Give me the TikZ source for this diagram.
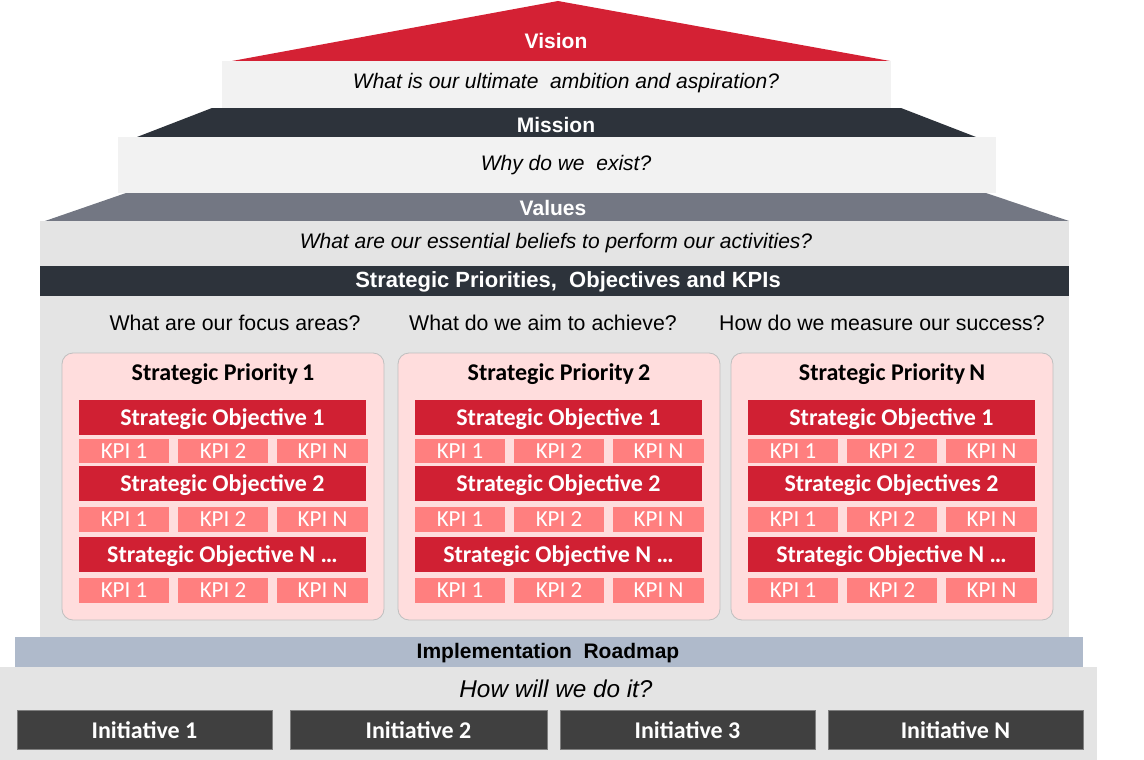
\documentclass[tikz,border=0pt]{standalone}
\usepackage{fontspec}
\setmainfont{Liberation Sans}
\newfontfamily\calib{Carlito}
\definecolor{visred}{HTML}{D42134}
\definecolor{misdark}{HTML}{2D333B}
\definecolor{valgray}{HTML}{737783}
\definecolor{lightA}{HTML}{F2F2F2}
\definecolor{lightB}{HTML}{E4E4E4}
\definecolor{roadblue}{HTML}{AFBACB}
\definecolor{prifill}{HTML}{FFDDDD}
\definecolor{priborder}{HTML}{BFBFBF}
\definecolor{objred}{HTML}{D02033}
\definecolor{kpisalmon}{HTML}{FF7F7F}
\definecolor{initdark}{HTML}{404040}
\definecolor{initborder}{HTML}{7F7F7F}
\tikzset{
  headtxt/.style={font=\fontsize{21}{23}\selectfont\bfseries, text=white, inner sep=0pt},
  headblk/.style={font=\fontsize{21}{23}\selectfont\bfseries, text=black, inner sep=0pt},
  questxt/.style={font=\fontsize{21}{23}\selectfont\itshape, text=black, inner sep=0pt},
  plaintxt/.style={font=\fontsize{21.3}{23}\selectfont, text=black, inner sep=0pt},
  pritxt/.style={font=\calib\fontsize{24}{26}\selectfont\bfseries, text=black, inner sep=0pt},
  objtxt/.style={font=\calib\fontsize{24}{26}\selectfont\bfseries, text=white, inner sep=0pt},
  kpitxt/.style={font=\calib\fontsize{23}{25}\selectfont, text=white, inner sep=0pt},
  inittxt/.style={font=\calib\fontsize{24}{26}\selectfont\bfseries, text=white, inner sep=0pt},
}
\begin{document}
\begin{tikzpicture}[x=1pt,y=-1pt]
\useasboundingbox (0,0) rectangle (1144,760);
% ---------- Vision ----------
\fill[visred] (558,1) -- (890,61) -- (232,61) -- cycle;
\fill[lightA] (222,61) rectangle (891,108);
\node[headtxt] (vision) at (556,40.5) {Vision};
\node[questxt] (visionq) at (566,83.5) {What is our ultimate \ ambition and aspiration?};
% ---------- Mission ----------
\fill[misdark] (212,108) -- (901,108) -- (976,137) -- (137,137) -- cycle;
\fill[lightA] (118,137) rectangle (996,193);
\node[headtxt] (mission) at (556,125) {Mission};
\node[questxt] (missionq) at (566,165) {Why do we \ exist?};
% ---------- Values ----------
\fill[valgray] (126,193) -- (986,193) -- (1069,221) -- (45,221) -- cycle;
\fill[lightB] (40,221) rectangle (1069,637);
\node[headtxt] (values) at (553,208) {Values};
\node[questxt] (valuesq) at (556,243) {What are our essential beliefs to perform our activities?};
% ---------- Strategic priorities ----------
\fill[misdark] (40,266) rectangle (1069,296);
\node[headtxt, font=\fontsize{22}{24}\selectfont\bfseries] (spok) at (568,282) {Strategic Priorities, \ Objectives and KPIs};
\node[plaintxt] (q1) at (235,323) {What are our focus areas?};
\node[plaintxt] (q2) at (543,323) {What do we aim to achieve?};
\node[plaintxt] (q3) at (882,323) {How do we measure our success?};
% ---------- Priority boxes ----------
\foreach \bx/\pn/\otwo/\id in {62/1/{Strategic Objective 2}/a, 398/2/{Strategic Objective 2}/b, 731/N/{Strategic Objectives 2}/c}{
  \draw[priborder, fill=prifill, rounded corners=11pt, line width=0.8pt] (\bx,353) rectangle ++(322,267);
  \node[pritxt] (pri\id) at (\bx+161,374) {Strategic Priority\,\pn};
  \foreach \yt/\yb/\txt/\k in {400/435/{Strategic Objective 1}/1, 466/501/{\otwo}/2, 537/572/{Strategic Objective N \ldots}/3}{
    \fill[objred] (\bx+17,\yt) rectangle (\bx+304,\yb);
    \node[objtxt] (obj\id\k) at (\bx+160.5,{(\yt+\yb)/2+1.5}) {\txt};
  }
  \foreach \yt/\yb/\k in {439/463/1, 507/532/2, 578/603/3}{
    \fill[kpisalmon] (\bx+17,\yt) rectangle (\bx+107,\yb);
    \fill[kpisalmon] (\bx+116,\yt) rectangle (\bx+206,\yb);
    \fill[kpisalmon] (\bx+215,\yt) rectangle (\bx+306,\yb);
    \node[kpitxt] (kpi\id\k a) at (\bx+62,{(\yt+\yb)/2}) {KPI 1};
    \node[kpitxt] (kpi\id\k b) at (\bx+161,{(\yt+\yb)/2}) {KPI 2};
    \node[kpitxt] (kpi\id\k c) at (\bx+260.5,{(\yt+\yb)/2}) {KPI N};
  }
}
% ---------- Implementation ----------
\fill[roadblue] (15,637) rectangle (1083,667);
\fill[lightB] (0,667) rectangle (1097,760);
\node[headblk] (impl) at (548,653) {Implementation \ Roadmap};
\node[font=\fontsize{24.3}{26}\selectfont\itshape, inner sep=0pt] (implq) at (556,689) {How will we do it?};
\foreach \xl/\xr/\t/\id in {17/272/1/a, 290/547/2/b, 560/815/3/c, 828/1083/N/d}{
  \draw[initborder, fill=initdark, line width=1pt] (\xl,710) rectangle (\xr,749);
  \node[inittxt] (init\id) at ({(\xl+\xr)/2},730) {Initiative \t};
}
\end{tikzpicture}
\end{document}
